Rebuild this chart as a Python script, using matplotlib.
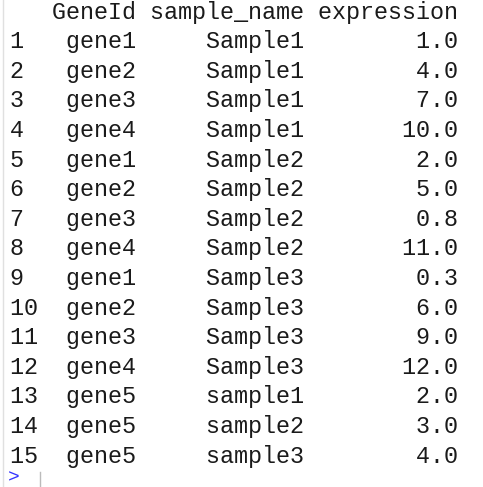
import matplotlib.pyplot as plt

gene_id = ["gene1", "gene2", "gene3", "gene4", "gene1", "gene2", "gene3", "gene4",
           "gene1", "gene2", "gene3", "gene4", "gene5", "gene5", "gene5"]
sample_name = ["Sample1", "Sample1", "Sample1", "Sample1", "Sample2", "Sample2", "Sample2", "Sample2",
               "Sample3", "Sample3", "Sample3", "Sample3", "sample1", "sample2", "sample3"]
expression = [1.0, 4.0, 7.0, 10.0, 2.0, 5.0, 0.8, 11.0, 0.3, 6.0, 9.0, 12.0, 2.0, 3.0, 4.0]

W, H = 483, 487
fig = plt.figure(figsize=(W / 100, H / 100), dpi=100)
fig.patch.set_facecolor("white")

def px(x, y):
    return x / W, 1 - y / H

font = dict(family="Liberation Mono", fontsize=16.8, color="#1a1a1a", va="center", ha="left")

# console style left border
fig.add_artist(plt.Line2D([3 / W, 3 / W], [0, 1], color="#e0e0e0", lw=1))

lines = ["   GeneId sample_name expression"]
for i, (g, s, e) in enumerate(zip(gene_id, sample_name, expression), start=1):
    lines.append(f"{i:<2}  {g:<10}{s:<7}{e:>11.1f}")

y0, dy = 12, 29.6
for k, line in enumerate(lines):
    fig.text(*px(10, y0 + k * dy), line, **font)

# prompt and cursor
fig.text(*px(8, 478), ">", family="Liberation Mono", fontsize=14, color="#3333ff",
         va="center", ha="left")
fig.add_artist(plt.Line2D([40 / W, 40 / W], [0, 15 / H], color="#bbbbbb", lw=1))

fig.savefig("out.png", dpi=100)
